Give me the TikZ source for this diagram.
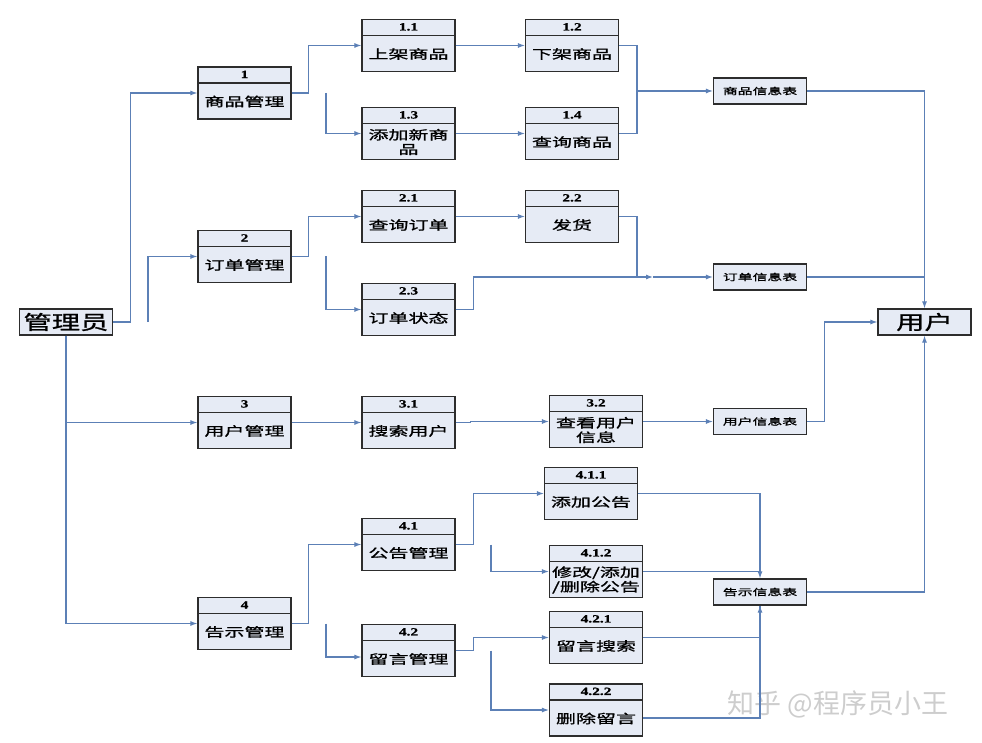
\documentclass[tikz,border=0pt]{standalone}
\usepackage{fontspec}
\setmainfont{Liberation Serif}
\newfontfamily\cjkbody[FakeStretch=1.6,FakeBold=1.2]{Noto Sans CJK SC}
\newfontfamily\cjkbig[FakeStretch=1.45,FakeBold=1.2]{Noto Sans CJK SC}
\newfontfamily\cjksmall[FakeStretch=1.65,FakeBold=1.2]{Noto Sans CJK SC}
\newfontfamily\cjkmark{Noto Sans CJK SC}
\newfontfamily\numfont[FakeStretch=1.4,FakeBold=1]{Liberation Serif}
\usepackage{tikz}
\usetikzlibrary{arrows.meta}
\definecolor{flowblue}{RGB}{92,128,182}
\definecolor{boxfill}{RGB}{230,235,245}
\definecolor{boxline}{RGB}{45,45,45}
\definecolor{markgray}{RGB}{205,205,205}
\tikzset{
  proc/.style 2 args={
    box,
    minimum height=52pt,
    path picture={\draw[boxline, line width=1.2pt] ([yshift=-16pt]path picture bounding box.north west) -- ([yshift=-16pt]path picture bounding box.north east);},
    label={[numtext]north:#1},
    label={[bodytext]center:#2}
  },
  numtext/.style={anchor=center, yshift=-8pt, inner sep=0pt, font=\numfont\bfseries\fontsize{11}{12}\selectfont},
  bodytext/.style={anchor=center, yshift=-8.5pt, inner sep=0pt, align=center, font=\cjkbody\fontsize{12.5}{14.5}\selectfont},
}
\tikzstyle{box} = [rectangle, draw=boxline, fill=boxfill, line width=1.2pt, minimum width=93pt, inner sep=0pt]
\tikzstyle{actor} = [box, minimum height=26pt, font=\cjkbig\fontsize{19.5}{22}\selectfont]
\tikzstyle{store} = [box, minimum height=26pt, font=\cjksmall\fontsize{9}{10}\selectfont]
\tikzstyle{flow} = [draw=flowblue, line width=1.1pt]
\tikzstyle{arrow} = [flow, -{Latex[length=7pt,width=5pt]}]
\tikzstyle{watermark} = [text=markgray, font=\cjkmark\fontsize{27}{30}\selectfont]
\begin{document}
\begin{tikzpicture}[x=1pt, y=-1pt]
        \useasboundingbox (0,0) rectangle (982,743);
        % blocks
        \node [actor] (admin) at (66,322) {管理员};
        \node [actor] (user) at (924.5,322) {用户};
        \node [proc={1}{商品管理}] (p1) at (244.5,93) {};
        \node [proc={2}{订单管理}] (p2) at (244.5,256.5) {};
        \node [proc={3}{用户管理}] (p3) at (244.5,422.5) {};
        \node [proc={4}{告示管理}] (p4) at (244.5,623.5) {};
        \node [proc={1.1}{上架商品}] (p11) at (408.5,45.5) {};
        \node [proc={1.3}{添加新商\\品}] (p13) at (408.5,133.5) {};
        \node [proc={2.1}{查询订单}] (p21) at (408.5,216.5) {};
        \node [proc={2.3}{订单状态}] (p23) at (408.5,309.5) {};
        \node [proc={3.1}{搜索用户}] (p31) at (408.5,422.5) {};
        \node [proc={4.1}{公告管理}] (p41) at (408.5,544.5) {};
        \node [proc={4.2}{留言管理}] (p42) at (408.5,650.5) {};
        \node [proc={1.2}{下架商品}] (p12) at (572,45.5) {};
        \node [proc={1.4}{查询商品}] (p14) at (572,133.5) {};
        \node [proc={2.2}{发货}] (p22) at (572,216.5) {};
        \node [proc={3.2}{查看用户\\信息}] (p32) at (596,421.5) {};
        \node [proc={4.1.1}{添加公告}] (p411) at (591,493.5) {};
        \node [proc={4.1.2}{修改/添加\\/删除公告}] (p412) at (596,571.5) {};
        \node [proc={4.2.1}{留言搜索}] (p421) at (596,637.5) {};
        \node [proc={4.2.2}{删除留言}] (p422) at (596,710) {};
        \node [store] (t1) at (760,91) {商品信息表};
        \node [store] (t2) at (760,277) {订单信息表};
        \node [store] (t3) at (760,421.5) {用户信息表};
        \node [store] (t4) at (760,592) {告示信息表};
        \node [watermark] (wm) at (838,704) {知乎 @程序员小王};

        % loose ends and joints
        \coordinate (a2) at (148,322);
        \coordinate (b13) at (326,93);
        \coordinate (b23) at (326,256.5);
        \coordinate (b42) at (326,623.5);
        \coordinate (b412) at (491,544.5);
        \coordinate (b422) at (491,650.5);
        \coordinate (j1) at (637,91);
        \coordinate (j2) at (637,277);
        \coordinate (m2) at (653,277);

        % arrows
        \draw [arrow] (admin.east) -- ++(17,0) |- (p1.west);
        \draw [arrow] (a2) |- (p2.west);
        \draw [arrow] (admin.south) |- (p3.west);
        \draw [arrow] (admin.south) |- (p4.west);
        \draw [arrow] (p1.east) -- ++(17,0) |- (p11.west);
        \draw [arrow] (b13) |- (p13.west);
        \draw [arrow] (p2.east) -- ++(17,0) |- (p21.west);
        \draw [arrow] (b23) |- (p23.west);
        \draw [arrow] (p3.east) -- (p31.west);
        \draw [arrow] (p4.east) -- ++(17,0) |- (p41.west);
        \draw [arrow] (b42) |- ([yshift=-6.5pt]p42.west);
        \draw [arrow] (p11.east) -- (p12.west);
        \draw [arrow] (p13.east) -- (p14.west);
        \draw [arrow] (p21.east) -- (p22.west);
        \draw [flow] (p12.east) -| (j1);
        \draw [arrow] (p14.east) -| (j1) -- (t1.west);
        \draw [arrow] (t1.east) -| (user.north);
        \draw [flow] (p22.east) -| (j2);
        \draw [arrow] (p23.east) -- ++(18,0) |- (m2);
        \draw [arrow] (m2) -- (t2.west);
        \draw [flow] (t2.east) -- (t2.east -| user.north);
        \draw [arrow] (p31.east) -- ++(15,0) |- (p32.west);
        \draw [arrow] (p32.east) -- (t3.west);
        \draw [arrow] (t3.east) -- ++(17,0) |- (user.west);
        \draw [arrow] (p41.east) -- ++(18,0) |- (p411.west);
        \draw [arrow] (b412) |- (p412.west);
        \draw [arrow] (p42.east) -- ++(18,0) |- (p421.west);
        \draw [arrow] (b422) |- (p422.west);
        \draw [arrow] (p411.east) -| (t4.north);
        \draw [flow] (p412.east) -- (p412.east -| t4.north);
        \draw [arrow] (p421.east) -| (t4.south);
        \draw [flow] ([yshift=-8pt]p422.east) -| (t4.south);
        \draw [arrow] (t4.east) -| (user.south);
\end{tikzpicture}
\end{document}
